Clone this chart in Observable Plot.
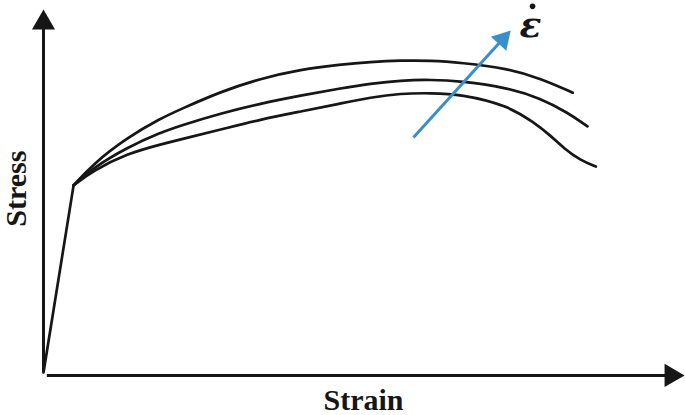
<!DOCTYPE html>
<html>
<head>
<meta charset="utf-8">
<script src="https://cdn.jsdelivr.net/npm/d3@7"></script>
<script src="https://cdn.jsdelivr.net/npm/@observablehq/plot@0.6"></script>
<style>
  html, body { margin: 0; padding: 0; background: #fff; }
  #chart svg { display: block; }
</style>
</head>
<body>
<div id="chart"></div>
<script>
// ---- data (strain, stress in arbitrary units 0..100) ----
const elasticStrain = [0, 4.7];
const elasticStress = [0, 51.7];

const strainHigh = [4.7, 7.8, 13.1, 18.3, 21.4, 27.7, 33.9, 40.2, 46.4, 51.1, 55.8, 60.5, 65.2, 72.5, 77.7, 82.7];
const stressHigh = [51.7, 57.7, 64.9, 70.2, 72.7, 77.6, 81.2, 83.7, 85.1, 85.8, 86.2, 86.2, 85.6, 84.0, 81.2, 77.3];

const strainMid = [4.7, 7.8, 13.1, 18.3, 21.4, 27.7, 33.9, 40.2, 46.4, 51.1, 55.8, 60.5, 65.2, 72.5, 77.7, 81.9, 85.0];
const stressMid = [51.7, 56.6, 62.2, 66.3, 68.2, 71.6, 74.3, 76.5, 78.5, 79.8, 80.7, 80.9, 80.5, 78.7, 75.7, 71.8, 68.0];

const strainLow = [4.7, 7.8, 13.1, 18.3, 21.4, 27.7, 33.9, 40.2, 46.4, 51.1, 55.8, 60.5, 65.2, 72.5, 76.6, 79.2, 81.3, 83.9, 86.3];
const stressLow = [51.7, 55.8, 60.5, 63.0, 64.4, 67.1, 69.9, 72.1, 74.3, 76.0, 77.1, 77.2, 76.9, 73.8, 69.1, 65.5, 61.9, 58.6, 56.9];

// strain-rate arrow (tail -> tip)
const rateArrowStrain = [57.8, 73.0];
const rateArrowStress = [64.9, 94.5];
const rateLabel = "\u03B5";
const rateLabelPos = [76.1, 95.9];

// axes extents
const yAxisStress = [0, 95.0];
const xAxisStrain = [0.6, 97.2];
const xAxisStress = -0.8;
const axisLabels = ["Strain", "Stress"];

// ---- layout ----
const W = 685, H = 415;
const mL = 43, mR = 2, mT = 10, mB = 43;
const pxX = (W - mL - mR) / 100;   // px per strain unit
const pxY = (H - mT - mB) / 100;   // px per stress unit

const toRows = (xs, ys, k) => xs.map((x, i) => ({strain: x, stress: ys[i], k}));
const plastic = [
  ...toRows(strainHigh, stressHigh, "high"),
  ...toRows(strainMid, stressMid, "mid"),
  ...toRows(strainLow, stressLow, "low")
];
const elastic = toRows(elasticStrain, elasticStress, "e");

// arrowheads: centroid placed 2/3 of head length behind the tip
function head(tipX, tipY, dirPx, lenPx) {
  const n = Math.hypot(dirPx[0], dirPx[1]);
  const ux = dirPx[0] / n, uy = dirPx[1] / n; // screen coords (y down)
  const back = lenPx * 2 / 3;
  const cx = tipX - ux * back / pxX;
  const cy = tipY + uy * back / pxY;
  const rot = Math.atan2(ux, -uy) * 180 / Math.PI;
  const r = Math.sqrt((Math.pow(lenPx / 3, 2) * 3 * Math.sqrt(3)) / Math.PI);
  return {x: cx, y: cy, rotate: rot, r};
}

const yHead = head(0, yAxisStress[1] + 19 / pxY, [0, -1], 20);
const xHead = head(xAxisStrain[1] + 19 / pxX, xAxisStress, [1, 0], 20);
const dxPx = (rateArrowStrain[1] - rateArrowStrain[0]) * pxX;
const dyPx = -(rateArrowStress[1] - rateArrowStress[0]) * pxY;
const bHead = head(rateArrowStrain[1], rateArrowStress[1], [dxPx, dyPx], 18);
// line stops inside the head
const bn = Math.hypot(dxPx, dyPx);
const bLineEnd = {
  x: rateArrowStrain[1] - (dxPx / bn) * 12 / pxX,
  y: rateArrowStress[1] + (dyPx / bn) * 12 / pxY
};

const ink = "#161616";
const blue = "#3a8fca";

const headMark = (h, fill) => Plot.dot([h], {x: "x", y: "y", r: h.r, rotate: h.rotate, symbol: "triangle", fill, stroke: "none"});

const chart = Plot.plot({
  width: W, height: H,
  marginLeft: mL, marginRight: mR, marginTop: mT, marginBottom: mB,
  x: {domain: [0, 100], axis: null},
  y: {domain: [0, 100], axis: null},
  style: {background: "#fff"},
  marks: [
    // axes
    Plot.ruleX([0], {y1: yAxisStress[0], y2: yAxisStress[1], stroke: ink, strokeWidth: 3}),
    Plot.ruleY([xAxisStress], {x1: xAxisStrain[0], x2: xAxisStrain[1], stroke: ink, strokeWidth: 3}),
    headMark(yHead, ink),
    headMark(xHead, ink),
    // curves
    Plot.line(elastic, {x: "strain", y: "stress", stroke: ink, strokeWidth: 2.7, strokeLinejoin: "miter"}),
    Plot.line(plastic, {x: "strain", y: "stress", z: "k", stroke: ink, strokeWidth: 2.7, curve: "basis"}),
    // strain-rate arrow
    Plot.link([{x1: rateArrowStrain[0], y1: rateArrowStress[0], x2: bLineEnd.x, y2: bLineEnd.y}],
      {x1: "x1", y1: "y1", x2: "x2", y2: "y2", stroke: blue, strokeWidth: 3}),
    headMark(bHead, blue),
    Plot.text([rateLabel], {x: () => rateLabelPos[0], y: () => rateLabelPos[1], text: d => d,
      fontSize: 36, fontStyle: "italic", fontWeight: "bold", fontFamily: "DejaVu Serif", fill: ink}),
    Plot.dot([rateLabel], {x: () => rateLabelPos[0], y: () => rateLabelPos[1], dx: 2, dy: -19, r: 2.8, fill: ink, stroke: "none"}),
    // axis titles
    Plot.text([axisLabels[0]], {x: () => 50, y: () => -7.6, text: d => d,
      fontSize: 30, fontWeight: "bold", fontFamily: "Liberation Serif", fill: ink}),
    Plot.text([axisLabels[1]], {x: () => -4.2, y: () => 50.8, text: d => d, rotate: -90,
      fontSize: 30, fontWeight: "bold", fontFamily: "Liberation Serif", fill: ink})
  ]
});
document.getElementById("chart").appendChild(chart);
</script>
</body>
</html>
